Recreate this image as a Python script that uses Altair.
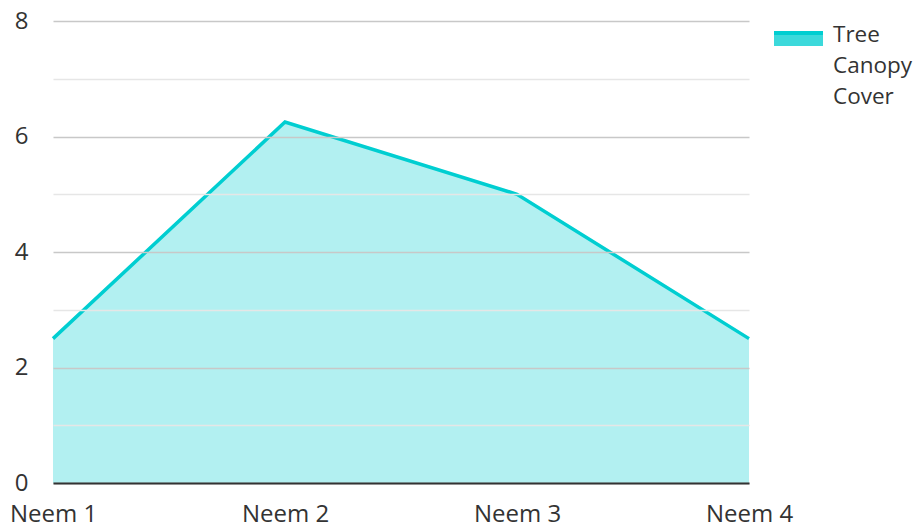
import altair as alt
import pandas as pd

categories = ["Neem 1", "Neem 2", "Neem 3", "Neem 4"]
values = [2.5, 6.25, 5.0, 2.5]
series_name = "Tree Canopy Cover"

df = pd.DataFrame({"tree": categories, "cover": values})

COLOR = "#00CED1"
FONT = "Open Sans"

x_enc = alt.X("tree:N", sort=categories, title=None,
              scale=alt.Scale(type="point", padding=0),
              axis=alt.Axis(labelAngle=0, labelFontSize=24, labelColor="#333333",
                            labelFont=FONT, ticks=False, labelPadding=19,
                            domain=True, domainColor="#333333", domainWidth=2,
                            grid=False, zindex=2))
y_enc = alt.Y("cover:Q", title=None,
              scale=alt.Scale(domain=[0, 8], nice=False),
              axis=alt.Axis(values=[0, 1, 2, 3, 4, 5, 6, 7, 8], format="d",
                            labelExpr="datum.value % 2 == 0 ? datum.label : ''",
                            labelFontSize=24, labelColor="#333333", labelFont=FONT,
                            ticks=False, labelPadding=25, domain=False,
                            grid=True, gridWidth=1.5,
                            gridColor={"expr": "datum.value % 2 == 0 ? '#c8c8c8' : '#e6e6e6'"},
                            zindex=1))

area = alt.Chart(df).mark_area(color=COLOR, opacity=0.3).encode(x=x_enc, y=y_enc)
line = alt.Chart(df).mark_line(color=COLOR, strokeWidth=3.5).encode(x="tree:N", y="cover:Q")

leg_fill = alt.Chart(df).mark_rect(color=COLOR, opacity=0.3, clip=False).encode(
    x=alt.value(721), x2=alt.value(770), y=alt.value(12), y2=alt.value(25))
leg_line = alt.Chart(df).mark_rule(color=COLOR, strokeWidth=4, clip=False).encode(
    x=alt.value(721), x2=alt.value(770), y=alt.value(12))
leg_text = alt.Chart(pd.DataFrame({"t": [series_name.split(" ")]})).mark_text(
    align="left", baseline="alphabetic", fontSize=22.5, font=FONT, color="#333333",
    lineHeight=31, clip=False).encode(
    x=alt.value(780), y=alt.value(21), text="t")

chart = alt.layer(area, line, leg_fill, leg_line, leg_text).properties(
    width=696, height=462,
    autosize=alt.AutoSizeParams(type="none"),
    padding={"left": 45, "top": 13, "right": 165, "bottom": 40},
).configure_view(stroke=None)

chart.save("out.html", embed_options={"renderer": "svg", "actions": False})
